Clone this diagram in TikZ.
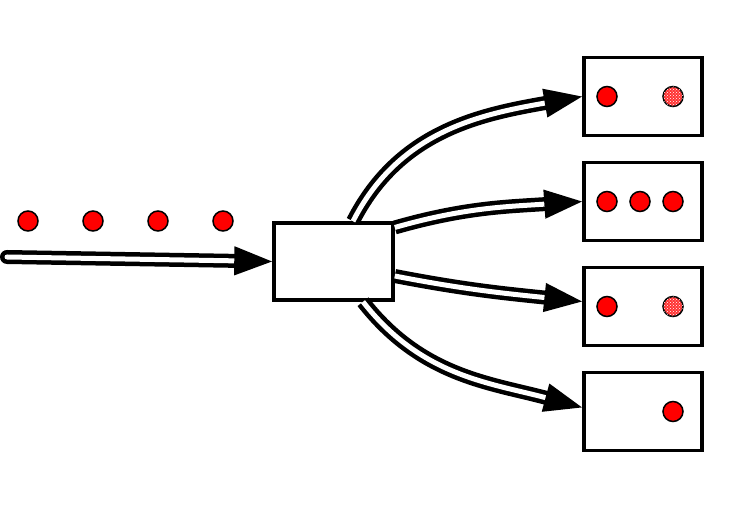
\documentclass[tikz,border=0pt]{standalone}
\usetikzlibrary{arrows.meta,patterns}
\begin{document}
\begin{tikzpicture}[x=1pt,y=1pt,
  box/.style={draw=black,line width=3.5pt,fill=white,minimum width=118pt,minimum height=78pt,inner sep=0pt},
  hub/.style={box,minimum width=119pt,minimum height=77pt},
  ball/.style={circle,draw=black,line width=1.5pt,fill=red,minimum size=20pt,inner sep=0pt},
  hball/.style={ball,fill=red!80!white,postaction={pattern=crosshatch dots,pattern color=white}},
  arr/.style={draw=black,line width=4.5pt,double=white,double distance=5pt,
    -{Triangle[length=38pt,width=28pt]}},
  inarr/.style={arr,line cap=round}]
\useasboundingbox (0,0) rectangle (735,508);
% hub and target boxes
\node[hub] (c) at (333.5,246.5) {};
\node[box] (b1) at (643,411.5) {};
\node[box] (b2) at (643,306.5) {};
\node[box] (b3) at (643,201.5) {};
\node[box] (b4) at (643,96.5) {};
% input dots
\node[ball] (i1) at (28,287) {};
\node[ball] (i2) at (93,287) {};
\node[ball] (i3) at (158,287) {};
\node[ball] (i4) at (223,287) {};
% dots in boxes
\node[ball] (d11) at (607,411.5) {};
\node[hball] (d12) at (673,411.5) {};
\node[ball] (d21) at (607,306.5) {};
\node[ball] (d22) at (640,306.5) {};
\node[ball] (d23) at (673,306.5) {};
\node[ball] (d31) at (607,201.5) {};
\node[hball] (d32) at (673,201.5) {};
\node[ball] (d41) at (673,96.5) {};
% connectors
\coordinate (s) at (7,251);
\draw[inarr] (s) -- (c.west);
\draw[arr] ([xshift=19.5pt]c.north) to[out=63,in=190] (b1.west);
\draw[arr] ([yshift=34pt]c.east) to[out=16,in=184] (b2.west);
\draw[arr] ([yshift=-14.5pt]c.east) to[out=-11,in=174] ([yshift=5pt]b3.west);
\draw[arr] ([xshift=29.5pt]c.south) to[out=-52,in=165] ([yshift=4pt]b4.west);
\end{tikzpicture}
\end{document}
